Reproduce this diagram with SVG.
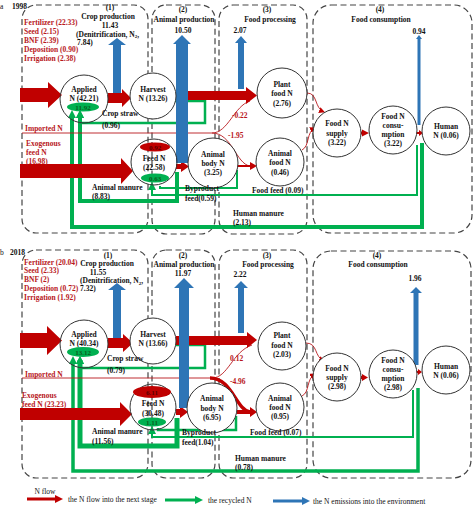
<svg xmlns="http://www.w3.org/2000/svg" width="474" height="508" viewBox="0 0 474 508">
<style>
.t{font-family:"Liberation Serif","Times New Roman",serif;font-weight:bold;font-size:7.5px;fill:#111;text-anchor:middle}
.s{text-anchor:start}
.rt{fill:#B8171C}
.lg{font-family:"Liberation Serif","Times New Roman",serif;font-size:7.5px;fill:#111}
.box{fill:none;stroke:#444;stroke-width:1.2;stroke-dasharray:6 3.5}
.node{fill:#fff;stroke:#333;stroke-width:1}
.open{fill:none}
.red{fill:#C00000}
.blue{fill:#2E75B6}
.g{fill:none;stroke:#00B050;stroke-linejoin:miter}
.thin{fill:none;stroke:#B8171C;stroke-width:0.9}
.ge{fill:#00B050}
.re{fill:#C00000}
.et{font-family:"Liberation Serif","Times New Roman",serif;font-weight:bold;font-size:7px;text-anchor:middle}
</style>
<defs>
<marker id="gh" markerUnits="userSpaceOnUse" markerWidth="8" markerHeight="8" refX="4" refY="4" orient="auto"><path d="M0,0 L8,4 L0,8 z" fill="#00B050"/></marker>
<marker id="rh" markerUnits="userSpaceOnUse" markerWidth="6" markerHeight="6" refX="5" refY="3" orient="auto"><path d="M0,0 L6,3 L0,6 z" fill="#C00000"/></marker>
</defs>
<rect width="474" height="508" fill="#fff"/>

<!-- Panel a -->
<g id="panel-a-boxes">
<text class="lg" x="0" y="9">a</text>
<text class="t s" x="12" y="9">1998</text>
<rect class="box" x="22" y="5" width="126" height="228" rx="14"/>
<rect class="box" x="152" y="5" width="63" height="229" rx="14"/>
<rect class="box" x="219" y="5" width="88" height="229" rx="14"/>
<rect class="box" x="313" y="5" width="159" height="228" rx="18"/>
<text class="t" x="110" y="10">(1)</text>
<text class="t" x="108" y="19">Crop production</text>
<text class="t" x="110" y="27.5">11.43</text>
<text class="t s" x="76" y="36.5">(Denitrification, N<tspan font-size="5" dy="1.5">2</tspan><tspan dy="-1.5">,</tspan></text>
<text class="t s" x="77" y="45">7.84)</text>
<text class="t" x="183" y="12">(2)</text>
<text class="t" x="184" y="21.5">Animal production</text>
<text class="t" x="183" y="33">10.50</text>
<text class="t" x="267" y="12">(3)</text>
<text class="t" x="270" y="21.5">Food processing</text>
<text class="t" x="240" y="33">2.07</text>
<text class="t" x="380" y="12">(4)</text>
<text class="t" x="381" y="21.5">Food consumption</text>
<text class="t" x="419" y="34">0.94</text>
<text class="t s rt" x="24" y="24.5">Fertilizer (22.33)</text>
<text class="t s rt" x="24" y="33.5">Seed (2.15)</text>
<text class="t s rt" x="24" y="42.5">BNF (2.39)</text>
<text class="t s rt" x="24" y="51.5">Deposition (0.90)</text>
<text class="t s rt" x="24" y="60.5">Irrigation (2.38)</text>
</g>

<g id="connectors-a">
<polyline class="g" stroke-width="2.5" points="175,101 205,101 205,123 80,123 80,114" marker-end="url(#gh)"/>
<polyline class="g" stroke-width="4" points="177,172 177,201 80,201 80,114" marker-end="url(#gh)"/>
<polyline class="g" stroke-width="4" points="422,143 422,227 72,227 72,114" marker-end="url(#gh)"/>
<polyline class="g" stroke-width="2" points="417,145 417,195 152,195 152,186" marker-end="url(#gh)"/>
<polyline class="g" stroke-width="2" points="237,170 237,188 160,188 160,186"/>
<path class="thin" d="M22,133 H212"/>
<path class="thin" d="M212,133 C228,133 234,106 250,101"/>
<path class="thin" d="M212,133 C232,133 236,164 250,166"/>
<path class="thin" d="M307,93 C318,93 314,108 324,112" marker-end="url(#rh)"/>
<path class="thin" d="M302,150 C310,146 306,132 315,128" marker-end="url(#rh)"/>
<polygon class="red" points="20,88 48,88 48,82 62,95 48,108 48,102 20,102"/>
<polygon class="red" points="108,93 122,93 122,89 131,98 122,107 122,103 108,103"/>
<polygon class="red" points="176,91 246,91 246,87 257,95.5 246,104 246,100 176,100"/>
<polygon class="red" points="20,164 121,164 121,158 133,171 121,184 121,178 20,178"/>
<polygon class="red" points="176,164 181,164 181,161 189,166.5 181,172 181,169 176,169"/>
<polygon class="red" points="237,165 250,165 250,162 257,166 250,170 250,167 237,167"/>
<polygon class="red" points="358,131.5 362,131.5 362,129.5 369,133 362,136.5 362,134.5 358,134.5"/>
<polygon class="red" points="416,132 419,132 419,130 423,133 419,136 419,134 416,134"/>
<polygon class="blue" points="113,93 113,45 108,45 117,38 126,45 121,45 121,93"/>
<polygon class="blue" points="176,163 176,44 173,44 182,35 191,44 188,44 188,163"/>
<polygon class="blue" points="238,89 238,43 235,43 241,36 247,43 244,43 244,89"/>
<polygon class="blue" points="417.5,125 417.5,39 416,39 419,35 422,39 420.5,39 420.5,125"/>
</g>

<g id="node-a-applied"><circle class="node open" cx="84" cy="99" r="24"/><text class="t" x="84" y="91.5">Applied</text><text class="t" x="84" y="100.5">N (42.21)</text><ellipse class="ge" cx="83" cy="107" rx="16" ry="4.5"/><text class="et" x="83" y="109.5" fill="#0B5E1E">11.92</text></g>
<g id="node-a-harvest"><circle class="node" cx="153" cy="96" r="23"/><text class="t" x="153" y="91.5">Harvest</text><text class="t" x="153" y="100.5">N (13.26)</text></g>
<g id="node-a-plant"><circle class="node" cx="282" cy="93" r="25"/><text class="t" x="282" y="86.5">Plant</text><text class="t" x="282" y="95.5">food N</text><text class="t" x="282" y="105.5">(2.76)</text></g>
<g id="node-a-feed"><circle class="node open" cx="154" cy="162" r="23"/><ellipse class="re" cx="155" cy="147" rx="15" ry="4.5"/><text class="et" x="155" y="149.5" fill="#5a0000">0.92</text><text class="t" x="154" y="160.5">Feed N</text><text class="t" x="154" y="169.5">(22.58)</text><ellipse class="ge" cx="155" cy="178" rx="14" ry="4.5"/><text class="et" x="155" y="180.5" fill="#0B5E1E">0.63</text></g>
<g id="node-a-animalbody"><circle class="node" cx="213" cy="163" r="25"/><text class="t" x="213" y="156.5">Animal</text><text class="t" x="213" y="165.5">body N</text><text class="t" x="213" y="174.5">(3.25)</text></g>
<g id="node-a-animalfood"><circle class="node" cx="280" cy="162" r="24"/><text class="t" x="280" y="155.5">Animal</text><text class="t" x="280" y="164.5">food N</text><text class="t" x="280" y="174.5">(0.46)</text></g>
<g id="node-a-supply"><circle class="node" cx="337" cy="133" r="24"/><text class="t" x="337" y="125.5">Food N</text><text class="t" x="337" y="135.5">supply</text><text class="t" x="337" y="144.5">(3.22)</text></g>
<g id="node-a-consumption"><circle class="node" cx="393" cy="130" r="24"/><text class="t" x="393" y="118.5">Food N</text><text class="t" x="393" y="127.5">consu-</text><text class="t" x="393" y="136.5">mption</text><text class="t" x="393" y="145.5">(3.22)</text></g>
<g id="node-a-human"><circle class="node" cx="446" cy="131" r="24"/><text class="t" x="446" y="128.5">Human</text><text class="t" x="446" y="137.5">N (0.06)</text></g>

<g id="labels-a">
<text class="t s rt" x="25" y="130.5">Imported N</text>
<text class="t s rt" x="26" y="145.5">Exogenous</text>
<text class="t s rt" x="26" y="154.5">feed N</text>
<text class="t s rt" x="26" y="163.5">(16.98)</text>
<text class="t s" x="102" y="115.5">Crop straw</text>
<text class="t s" x="102" y="127.5">(0.96)</text>
<text class="t s" x="92" y="189.5">Animal manure</text>
<text class="t s" x="92" y="198.5">(8.83)</text>
<text class="t s" x="185" y="190.5">Byproduct</text>
<text class="t s" x="185" y="200.5">feed(0.59)</text>
<text class="t s" x="252" y="192.5">Food feed (0.09)</text>
<text class="t s" x="233" y="215.5">Human manure</text>
<text class="t s" x="233" y="224.5">(2.13)</text>
<text class="t s rt" x="232" y="118">-0.22</text>
<text class="t s rt" x="228" y="137.5">-1.95</text>
</g>

<!-- Panel b -->
<g id="panel-b-boxes">
<text class="lg" x="0" y="255">b</text>
<text class="t s" x="10" y="255">2018</text>
<rect class="box" x="22" y="250" width="126" height="228" rx="14"/>
<rect class="box" x="152" y="250" width="63" height="228" rx="14"/>
<rect class="box" x="219" y="250" width="88" height="228" rx="14"/>
<rect class="box" x="313" y="251" width="158" height="227" rx="18"/>
<text class="t" x="108" y="257.5">(1)</text>
<text class="t" x="107" y="266">Crop production</text>
<text class="t" x="98" y="274.5">11.55</text>
<text class="t s" x="80" y="283">(Denitrification, N<tspan font-size="5" dy="1.5">2</tspan><tspan dy="-1.5">,</tspan></text>
<text class="t s" x="80" y="291">7.32)</text>
<text class="t" x="183" y="257.5">(2)</text>
<text class="t" x="184" y="266.5">Animal production</text>
<text class="t" x="183" y="275.5">11.97</text>
<text class="t" x="267" y="257.5">(3)</text>
<text class="t" x="268" y="266.5">Food processing</text>
<text class="t" x="240" y="276.5">2.22</text>
<text class="t" x="377" y="257.5">(4)</text>
<text class="t" x="378" y="266.5">Food consumption</text>
<text class="t" x="415" y="280.5">1.96</text>
<text class="t s rt" x="24" y="264.5">Fertilizer (20.04)</text>
<text class="t s rt" x="24" y="273">Seed (2.33)</text>
<text class="t s rt" x="24" y="281.5">BNF (2)</text>
<text class="t s rt" x="24" y="290.5">Deposition (0.72)</text>
<text class="t s rt" x="24" y="299.5">Irrigation (1.92)</text>
</g>

<g id="connectors-b">
<polyline class="g" stroke-width="2.5" points="175,345 205,345 205,368 80,368 80,360" marker-end="url(#gh)"/>
<polyline class="g" stroke-width="5" points="177,418 177,446 80,446 80,360" marker-end="url(#gh)"/>
<polyline class="g" stroke-width="3.5" points="418,388 418,471 73,471 73,360" marker-end="url(#gh)"/>
<polyline class="g" stroke-width="2" points="413,390 413,437 152,437 152,430" marker-end="url(#gh)"/>
<polyline class="g" stroke-width="2.5" points="236,416 236,430 158,430 158,428"/>
<path class="thin" d="M22,378 H212"/>
<path class="thin" d="M212,378 C228,378 232,352 252,345"/>
<path fill="none" stroke="#C00000" stroke-width="3.5" d="M210,378 C232,378 236,410 250,412"/>
<path class="thin" d="M306,343 C318,343 314,357 324,361" marker-end="url(#rh)"/>
<path class="thin" d="M302,396 C310,392 306,379 315,374" marker-end="url(#rh)"/>
<polygon class="red" points="20,333 47,333 47,326 62,340.5 47,355 47,348 20,348"/>
<polygon class="red" points="108,338 123,338 123,334 133,343 123,352 123,348 108,348"/>
<polygon class="red" points="176,336 247,336 247,332 257,340 247,348 247,345 176,345"/>
<polygon class="red" points="20,408 120,408 120,402 132,414 120,426 120,420 20,420"/>
<polygon class="red" points="176,409 180,409 180,406 188,412 180,418 180,415 176,415"/>
<polygon class="red" points="237,410 250,410 250,407 257,412 250,417 250,414 237,414"/>
<polygon class="red" points="358,376 362,376 362,374 368,377.5 362,381 362,379 358,379"/>
<polygon class="red" points="415,371 418,371 418,369 422,372 418,375 418,373 415,373"/>
<polygon class="blue" points="113,338 113,290 108,290 117,283 126,290 121,290 121,338"/>
<polygon class="blue" points="179,408 179,288 174,288 184,278 194,288 189,288 189,408"/>
<polygon class="blue" points="238,333 238,288 234,288 241,281 248,288 244,288 244,333"/>
<polygon class="blue" points="413.5,365 413.5,293 410,293 416,287 422,293 418.5,293 418.5,365"/>
</g>

<g id="node-b-applied"><circle class="node open" cx="84" cy="344" r="24"/><text class="t" x="84" y="336.5">Applied</text><text class="t" x="84" y="345.5">N (40.34)</text><ellipse class="ge" cx="83" cy="352" rx="16" ry="5"/><text class="et" x="83" y="354.5" fill="#0B5E1E">13.12</text></g>
<g id="node-b-harvest"><circle class="node" cx="153" cy="341" r="23"/><text class="t" x="153" y="336.5">Harvest</text><text class="t" x="153" y="345.5">N (13.66)</text></g>
<g id="node-b-plant"><circle class="node" cx="282" cy="346" r="24"/><text class="t" x="282" y="337.5">Plant</text><text class="t" x="282" y="347.5">food N</text><text class="t" x="282" y="356.5">(2.03)</text></g>
<g id="node-b-feed"><circle class="node open" cx="153" cy="407" r="23"/><ellipse class="re" cx="152" cy="392" rx="19" ry="6"/><text class="et" x="152" y="394.5" fill="#5a0000">6.11</text><text class="t" x="153" y="405.5">Feed N</text><text class="t" x="153" y="415.5">(30.48)</text><ellipse class="ge" cx="152" cy="422" rx="14" ry="4.5"/><text class="et" x="152" y="424.5" fill="#0B5E1E">1.11</text></g>
<g id="node-b-animalbody"><circle class="node" cx="212" cy="408" r="25"/><text class="t" x="212" y="400.5">Animal</text><text class="t" x="212" y="410.5">body N</text><text class="t" x="212" y="419.5">(6.95)</text></g>
<g id="node-b-animalfood"><circle class="node" cx="280" cy="407" r="24"/><text class="t" x="280" y="400.5">Animal</text><text class="t" x="280" y="409.5">food N</text><text class="t" x="280" y="418.5">(0.95)</text></g>
<g id="node-b-supply"><circle class="node" cx="337" cy="377" r="24"/><text class="t" x="337" y="370.5">Food N</text><text class="t" x="337" y="379.5">supply</text><text class="t" x="337" y="388.5">(2.98)</text></g>
<g id="node-b-consumption"><circle class="node" cx="393" cy="374" r="24"/><text class="t" x="393" y="362.5">Food N</text><text class="t" x="393" y="371.5">consu-</text><text class="t" x="393" y="380.5">mption</text><text class="t" x="393" y="389.5">(2.98)</text></g>
<g id="node-b-human"><circle class="node" cx="446" cy="370" r="24"/><text class="t" x="446" y="368.5">Human</text><text class="t" x="446" y="377.5">N (0.06)</text></g>

<g id="labels-b">
<text class="t s rt" x="25" y="376.5">Imported N</text>
<text class="t s rt" x="22" y="397.5">Exogenous</text>
<text class="t s rt" x="22" y="406.5">feed N (23.23)</text>
<text class="t s" x="107" y="360.5">Crop straw</text>
<text class="t s" x="107" y="372.5">(0.79)</text>
<text class="t s" x="92" y="433.5">Animal manure</text>
<text class="t s" x="92" y="443.5">(11.56)</text>
<text class="t s" x="182" y="434.5">Byproduct</text>
<text class="t s" x="182" y="444.5">feed(1.04)</text>
<text class="t s" x="250" y="434.5">Food feed (0.07)</text>
<text class="t s" x="235" y="460.5">Human manure</text>
<text class="t s" x="235" y="469.5">(0.78)</text>
<text class="t s rt" x="230" y="360.5">0.12</text>
<text class="t s rt" x="230" y="383.5">-4.96</text>
</g>

<g id="legend">
<text class="lg" x="45" y="494" text-anchor="middle">N flow</text>
<polygon class="red" points="27,497.5 55,497.5 55,495 63,499 55,503 55,500.5 27,500.5"/>
<text class="lg" x="68" y="502">the N flow into the next stage</text>
<polygon fill="#00B050" points="165,498.5 195,498.5 195,496 203,500 195,504 195,501.5 165,501.5"/>
<text class="lg" x="208" y="503">the recycled N</text>
<polygon class="blue" points="273,499.5 302,499.5 302,497 310,501 302,505 302,502.5 273,502.5"/>
<text class="lg" x="313" y="504">the N emissions into the environment</text>
</g>
</svg>
